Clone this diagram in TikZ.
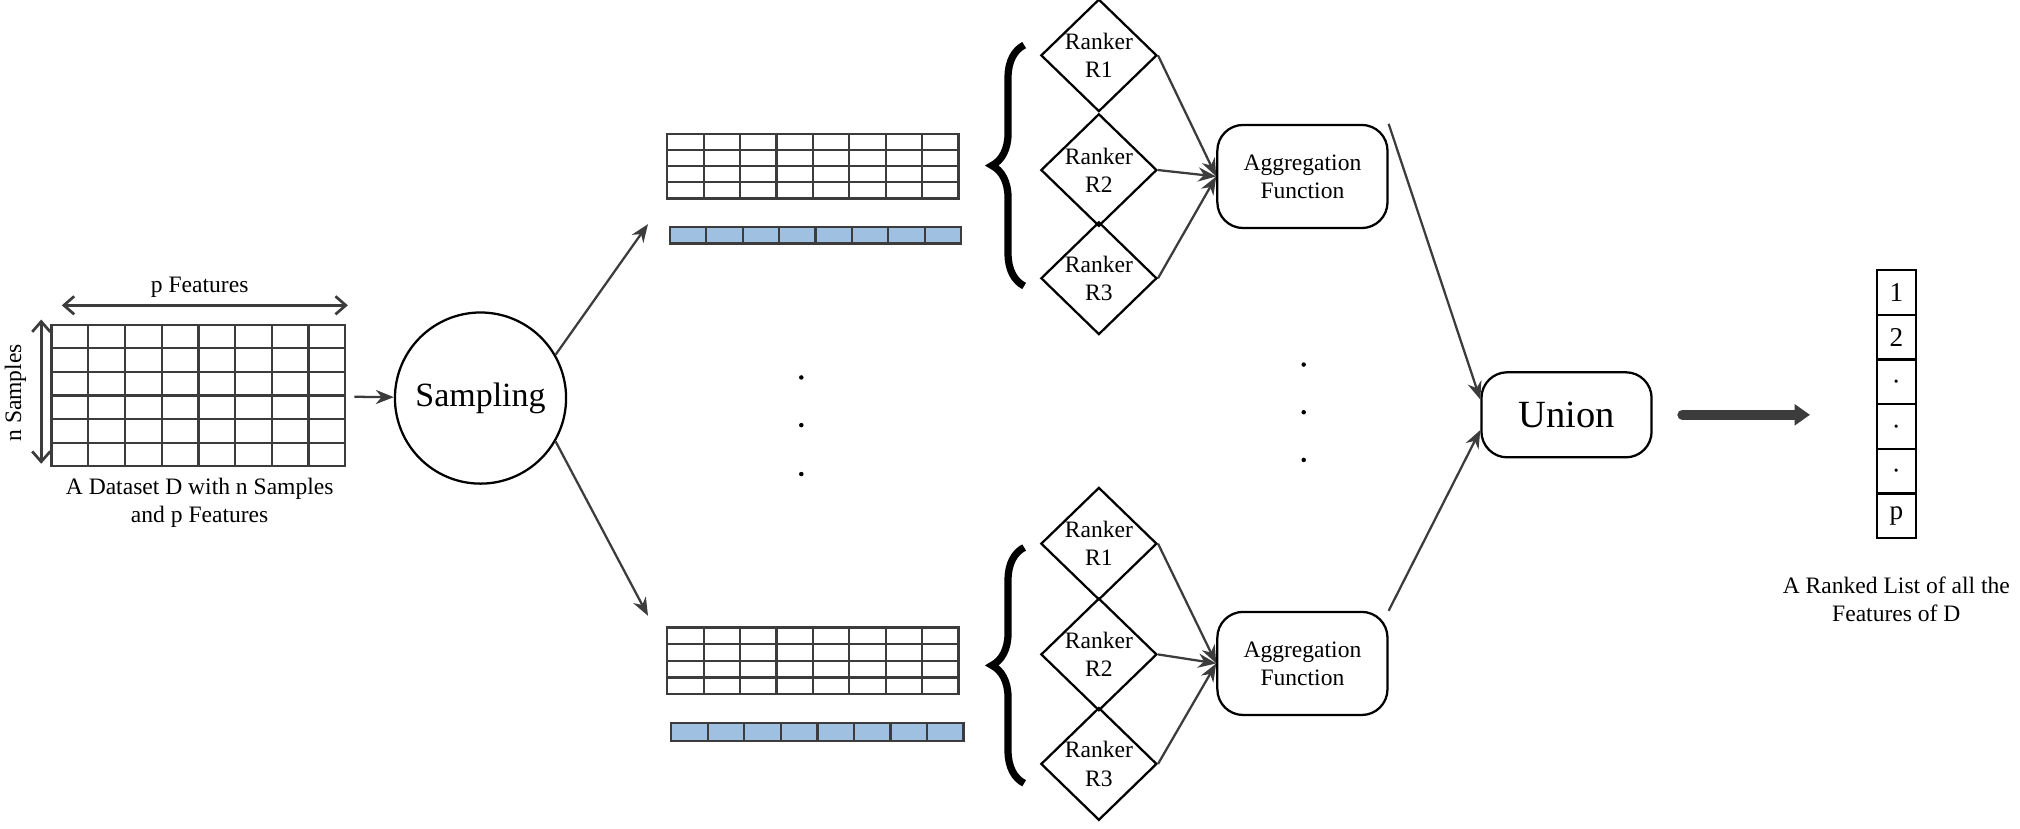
\documentclass[tikz,border=0pt]{standalone}
\usepackage{fontspec}
\setmainfont{Liberation Serif}
\usepackage{tikz}
\usetikzlibrary{arrows.meta,positioning,calc,shapes.geometric,decorations.pathreplacing}

\definecolor{cellblue}{RGB}{160,192,226}
\definecolor{linegray}{RGB}{60,60,60}

% table of cells: x, y, width, height, columns, rows
\newcommand{\celltable}[6]{%
  \draw[linegray,line width=0.5pt] (#1,#2) rectangle ++(#3,#4);
  \foreach \i in {1,...,\numexpr#5-1\relax}
    \draw[linegray,line width=0.5pt] ({#1+\i*#3/#5},#2) -- ++(0,#4);
  \foreach \j in {1,...,\numexpr#6-1\relax}
    \draw[linegray,line width=0.5pt] (#1,{#2+\j*#4/#6}) -- ++(#3,0);
}
% blue row of cells: x, y, width, height
\newcommand{\bluerow}[4]{%
  \fill[cellblue] (#1,#2) rectangle ++(#3,#4);
  \celltable{#1}{#2}{#3}{#4}{8}{1}
}

\tikzset{
  txt/.style={font=\fontsize{5.2}{6.2}\selectfont,align=center},
  ranker/.style={diamond,draw,line width=0.5pt,inner sep=0pt,minimum width=0.9cm,
    minimum height=0.87cm,txt},
  aggbox/.style={draw,rounded corners=0.2cm,line width=0.5pt,minimum width=1.32cm,
    minimum height=0.8cm,txt},
  link/.style={-{Stealth[length=0.14cm,width=0.11cm]},linegray,line width=0.5pt},
  bigbrace/.style={decorate,decoration={brace,amplitude=0.25cm},line width=1.6pt},
  dot/.style={circle,fill=black,inner sep=0pt,minimum size=0.035cm}
}

\begin{document}
\begin{tikzpicture}[x=0.01cm,y=-0.01cm]
  \useasboundingbox (0,0) rectangle (1568,643);

  % input dataset
  \celltable{40}{252}{228}{110}{8}{6}
  \draw[{Straight Barb[length=0.08cm,width=0.14cm]}-{Straight Barb[length=0.08cm,width=0.14cm]},linegray,line width=0.6pt]
    (48,237) -- (270,237);
  \node[txt] (pfeat) at (155,223) {p Features};
  \draw[{Straight Barb[length=0.08cm,width=0.14cm]}-{Straight Barb[length=0.08cm,width=0.14cm]},linegray,line width=0.6pt]
    (32,248) -- (32,360);
  \node[txt,rotate=90] (nsamp) at (12,305) {n Samples};
  \node[txt] (dcap) at (155,390) {A Dataset D with n Samples\\and p Features};
  \coordinate (din) at (275,308);

  % sampling
  \node[draw,circle,line width=0.5pt,minimum size=1.14cm,font=\fontsize{7.5}{9}\selectfont] (samp) at (373,309) {Sampling};
  \draw[link] (din) -- (samp);
  \coordinate (topin) at (503,174);
  \coordinate (botin) at (503,478);
  \draw[link] (samp.30) -- (topin);
  \draw[link] (samp.-30) -- (botin);

  % sampled subsets
  \celltable{518}{104}{226}{50}{8}{4}
  \bluerow{520}{176}{226}{13}
  \celltable{518}{487}{226}{52}{8}{4}
  \bluerow{521}{561}{227}{14}

  % dots
  \foreach \y in {293,330,368} \node[dot] at (622,\y) {};
  \foreach \y in {283,320,357} \node[dot] at (1012,\y) {};

  % braces
  \draw[bigbrace] (795,222) -- (795,35);
  \draw[bigbrace] (795,608) -- (795,425);

  % rankers
  \node[ranker] (ta) at (853,43) {Ranker\\R1};
  \node[ranker] (tb) at (853,132) {Ranker\\R2};
  \node[ranker] (tc) at (853,216) {Ranker\\R3};
  \node[ranker] (ba) at (853,422) {Ranker\\R1};
  \node[ranker] (bb) at (853,508) {Ranker\\R2};
  \node[ranker] (bc) at (853,593) {Ranker\\R3};

  % aggregation
  \node[aggbox] (tagg) at (1011,137) {Aggregation\\Function};
  \node[aggbox] (bagg) at (1011,515) {Aggregation\\Function};
  \foreach \r in {ta,tb,tc} \draw[link] (\r.east) -- (tagg.west);
  \foreach \r in {ba,bb,bc} \draw[link] (\r.east) -- (bagg.west);

  % union
  \node[draw,rounded corners=0.2cm,line width=0.5pt,minimum width=1.32cm,minimum height=0.66cm,
    font=\fontsize{8.5}{10}\selectfont] (uni) at (1216,322) {Union};
  \draw[link] (tagg.north east) -- (uni.170);
  \draw[link] (bagg.north east) -- (uni.190);
  \coordinate (lst) at (1405,322);
  \draw[-{Triangle[length=0.12cm,width=0.16cm]},linegray,line width=2.2pt,line cap=round]
    (uni.east)++(23,0) -- (lst);

  % ranked list
  \foreach \k/\t in {0/1,1/2,2/$\cdot$,3/$\cdot$,4/$\cdot$,5/p}
    \node[draw,line width=0.5pt,minimum width=0.3cm,minimum height=0.347cm,inner sep=0pt,
      font=\fontsize{6}{7}\selectfont] (li\k) at (1472,{227+\k*34.7}) {\t};
  \node[txt] (lcap) at (1472,465) {A Ranked List of all the\\Features of D};
\end{tikzpicture}
\end{document}
